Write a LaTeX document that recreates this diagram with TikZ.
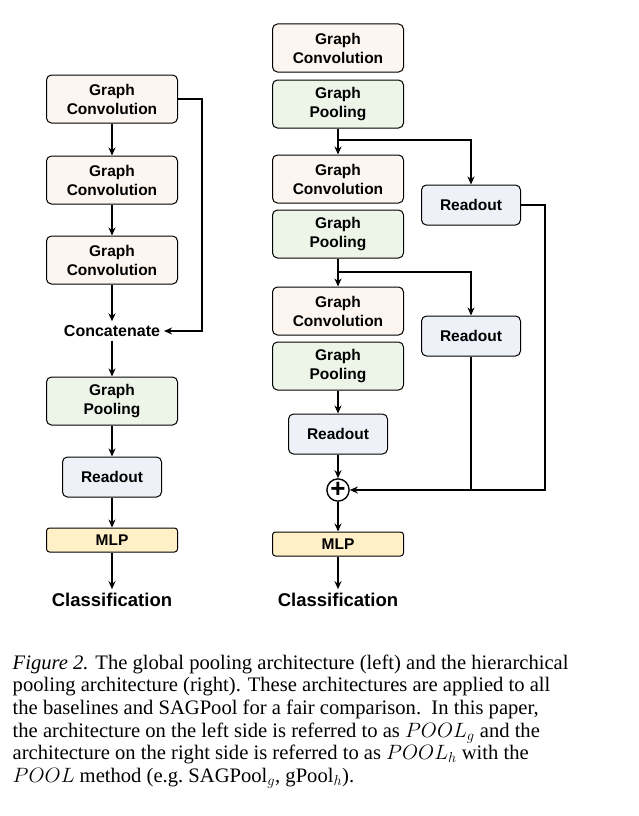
\documentclass[tikz,border=0pt]{standalone}
\usepackage{fontspec}
\setmainfont{Liberation Serif}
\newfontfamily\boxfont{Liberation Sans}
\usetikzlibrary{arrows.meta}
\definecolor{convfill}{HTML}{FDF5EF}
\definecolor{poolfill}{HTML}{EDF4E8}
\definecolor{readfill}{HTML}{EEF1F8}
\definecolor{mlpfill}{HTML}{FFF0C8}
\begin{document}
\begin{tikzpicture}
        [x=1pt, y=-1pt, >={Stealth[length=8pt,width=7pt]}, line width=1.4pt,
         blk/.style={draw=black, line width=1pt, rounded corners=5pt, minimum width=131pt, minimum height=48pt,
                     align=center, font=\boxfont\bfseries\fontsize{15.5}{19}\selectfont},
         conv/.style={blk, fill=convfill},
         pool/.style={blk, fill=poolfill},
         read/.style={blk, fill=readfill, minimum width=99pt, minimum height=40pt},
         mlp/.style={blk, fill=mlpfill, minimum height=24pt, rounded corners=3pt},
         lbl/.style={font=\boxfont\bfseries\fontsize{18.5}{22}\selectfont}]
        \useasboundingbox (0,0) rectangle (638,816);
        % left: global pooling
        \node[conv] (lc1) at (112, 99) {Graph\\Convolution};
        \node[conv] (lc2) at (112, 180) {Graph\\Convolution};
        \node[conv] (lc3) at (112, 260) {Graph\\Convolution};
        \node[lbl, font=\boxfont\bfseries\fontsize{16}{19}\selectfont] (cat) at (112, 331) {Concatenate};
        \node[pool] (lp) at (112, 401) {Graph\\Pooling};
        \node[read] (lr) at (112, 477) {Readout};
        \node[mlp] (lm) at (112, 540) {MLP};
        \node[lbl] (lcls) at (112, 600) {Classification};
        \coordinate (lk1) at (202, 99);
        \coordinate (lk2) at (202, 331);

        \draw[->] (lc1) -- (lc2);
        \draw[->] (lc2) -- (lc3);
        \draw[->] (lc3) -- (cat);
        \draw[->] (lc1.east) -- (lk1) -- (lk2) -- (cat.east);
        \draw[->] (cat) -- (lp);
        \draw[->] (lp) -- (lr);
        \draw[->] (lr) -- (lm);
        \draw[->] (lm) -- (lcls);

        % right: hierarchical pooling
        \node[conv] (rc1) at (338, 48) {Graph\\Convolution};
        \node[pool] (rp1) at (338, 104) {Graph\\Pooling};
        \node[conv] (rc2) at (338, 179) {Graph\\Convolution};
        \node[pool] (rp2) at (338, 234) {Graph\\Pooling};
        \node[conv] (rc3) at (338, 311) {Graph\\Convolution};
        \node[pool] (rp3) at (338, 366) {Graph\\Pooling};
        \node[read] (rr3) at (338, 434) {Readout};
        \node[circle, draw=black, line width=1.4pt, inner sep=0pt, minimum size=22pt,
              font=\boxfont\bfseries\fontsize{26}{26}\selectfont] (sum) at (338, 490) {\raisebox{1pt}{+}};
        \node[mlp] (rm) at (338, 544) {MLP};
        \node[lbl] (rcls) at (338, 600) {Classification};
        \node[read] (rr1) at (471, 205) {Readout};
        \node[read] (rr2) at (471, 336) {Readout};
        \coordinate (b1) at (338, 140);
        \coordinate (b1r) at (471, 140);
        \coordinate (b2) at (338, 272);
        \coordinate (b2r) at (471, 272);
        \coordinate (o1a) at (545, 205);
        \coordinate (o1b) at (545, 490);
        \coordinate (o2) at (471, 490);

        \draw[->] (rp1) -- (rc2);
        \draw[->] (rp2) -- (rc3);
        \draw[->] (rp3) -- (rr3);
        \draw[->] (rr3) -- (sum);
        \draw[->] (sum) -- (rm);
        \draw[->] (rm) -- (rcls);
        \draw[->] (b1) -- (b1r) -- (rr1);
        \draw[->] (b2) -- (b2r) -- (rr2);
        \draw (rr2) -- (o2);
        \draw[->] (rr1.east) -- (o1a) -- (o1b) -- (sum);

        % caption
        \node[anchor=north west, inner sep=0pt, align=left, font=\fontsize{20.6}{22.6}\selectfont] (cap) at (12, 654)
          {\textit{Figure 2.} The global pooling architecture (left) and the hierarchical\\
           pooling architecture (right). These architectures are applied to all\\
           the baselines and SAGPool for a fair comparison.\ \ In this paper,\\
           the architecture on the left side is referred to as $POOL_g$ and the\\
           architecture on the right side is referred to as $POOL_h$ with the\\
           $POOL$ method (e.g.\ SAGPool$_g$, gPool$_h$).};
    \end{tikzpicture}
\end{document}
